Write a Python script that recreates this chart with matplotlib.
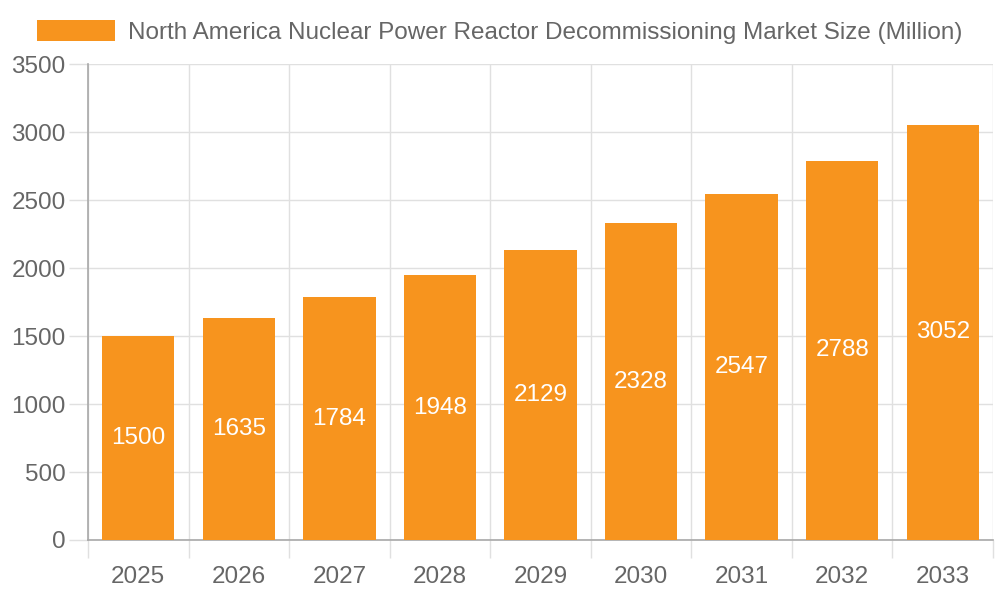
import numpy as np
import matplotlib
matplotlib.use("Agg")
import matplotlib.pyplot as plt
from matplotlib.patches import Patch

years = ["2025", "2026", "2027", "2028", "2029", "2030", "2031", "2032", "2033"]
values = [1500, 1635, 1784, 1948, 2129, 2328, 2547, 2788, 3052]
series_name = "North America Nuclear Power Reactor Decommissioning Market Size (Million)"

BAR_COLOR = "#f7941e"
GRID = "#e0e0e0"
AXIS = "#a8a8a8"
TEXT = "#666666"

plt.rcParams["font.family"] = ["Liberation Sans", "DejaVu Sans"]

fig = plt.figure(figsize=(10, 6), dpi=100)
ax = fig.add_axes([0.088, 0.1, 0.905, 0.7933])

x = np.arange(len(years))
bars = ax.bar(x, values, width=0.72, color=BAR_COLOR, zorder=3)
for b, v in zip(bars, values):
    ax.text(b.get_x() + b.get_width() / 2, v / 2, str(v), ha="center", va="center",
            color="white", fontsize=17.5, zorder=4)

ax.set_xlim(-0.5, len(years) - 0.5)
ax.set_ylim(0, 3500)
ax.set_yticks(np.arange(0, 3501, 500))
ax.set_xticks(x)
ax.set_xticklabels(years)
ax.set_xticks(np.arange(-0.5, len(years), 1), minor=True)

ax.grid(axis="y", color=GRID, linewidth=1, zorder=0)
ax.grid(axis="x", which="minor", color=GRID, linewidth=1, zorder=0)
ax.tick_params(axis="x", which="major", length=0, pad=19, labelsize=17.5, labelcolor=TEXT)
ax.tick_params(axis="x", which="minor", length=13, color=GRID, width=1)
ax.tick_params(axis="y", length=14, color=GRID, width=1, pad=2, labelsize=17.5, labelcolor=TEXT)

for s in ["top", "right"]:
    ax.spines[s].set_visible(False)
for s in ["left", "bottom"]:
    ax.spines[s].set_color(AXIS)
    ax.spines[s].set_linewidth(1.2)

fig.legend(handles=[Patch(facecolor=BAR_COLOR, label=series_name)],
           loc="center", bbox_to_anchor=(0.5, 0.947), frameon=False,
           fontsize=17.5, labelcolor=TEXT, handlelength=3.2, handleheight=1.0,
           handletextpad=0.55)

fig.savefig("out.png", dpi=100)
